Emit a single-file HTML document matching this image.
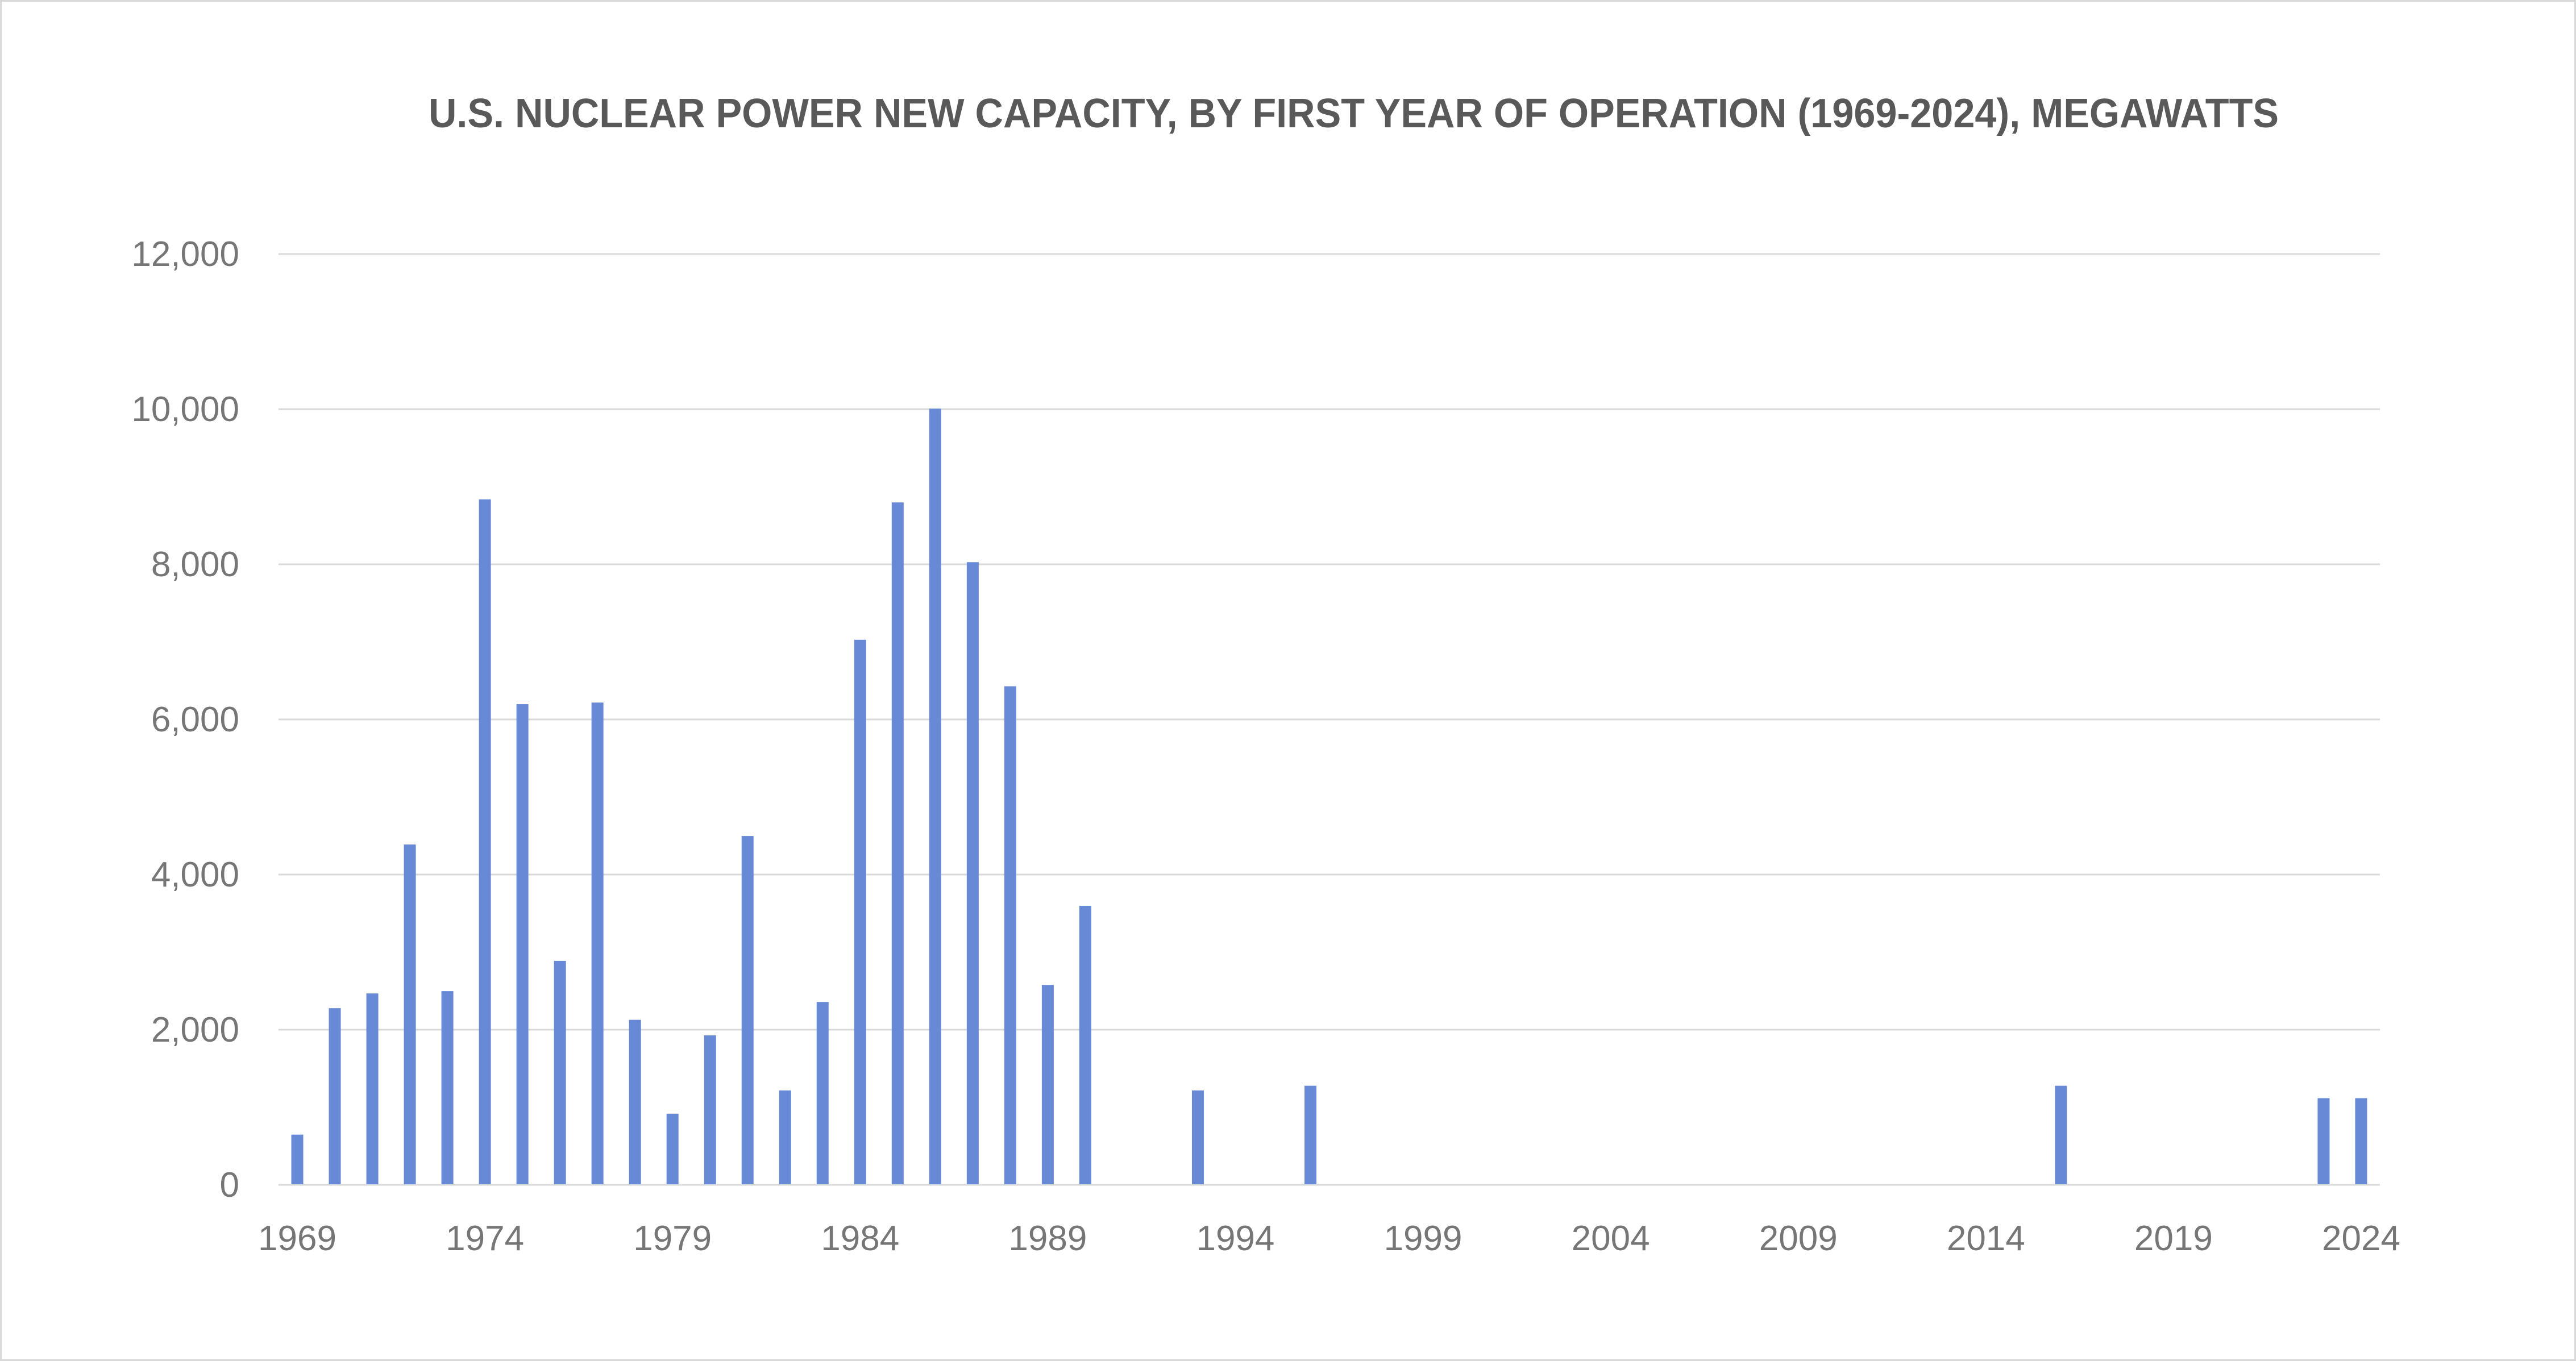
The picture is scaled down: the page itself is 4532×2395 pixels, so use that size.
<!DOCTYPE html>
<html><head><meta charset="utf-8"><style>html,body{margin:0;padding:0;background:#fff}svg{display:block}</style></head>
<body>
<svg xmlns="http://www.w3.org/2000/svg" width="4532" height="2395" viewBox="0 0 4532 2395">
<rect x="1.5" y="1.5" width="4529" height="2392" fill="#fff" stroke="#d9d9d9" stroke-width="3"/>
<text x="754" y="224" font-family="Liberation Sans, sans-serif" font-weight="bold" font-size="72" fill="#595959" textLength="3255" lengthAdjust="spacingAndGlyphs">U.S. NUCLEAR POWER NEW CAPACITY, BY FIRST YEAR OF OPERATION (1969-2024), MEGAWATTS</text>
<g stroke="#d9d9d9" stroke-width="3">
<line x1="490" x2="4187" y1="447" y2="447"/>
<line x1="490" x2="4187" y1="720" y2="720"/>
<line x1="490" x2="4187" y1="993" y2="993"/>
<line x1="490" x2="4187" y1="1266" y2="1266"/>
<line x1="490" x2="4187" y1="1539" y2="1539"/>
<line x1="490" x2="4187" y1="1812" y2="1812"/>
<line x1="490" x2="4187" y1="2085" y2="2085"/>
</g>
<g font-family="Liberation Sans, sans-serif" font-size="62" fill="#767676" text-anchor="end">
<text x="421" y="468">12,000</text>
<text x="421" y="741">10,000</text>
<text x="421" y="1014">8,000</text>
<text x="421" y="1287">6,000</text>
<text x="421" y="1560">4,000</text>
<text x="421" y="1833">2,000</text>
<text x="421" y="2106">0</text>
</g>
<g id="bars" fill="#6789d6"></g>
<g id="xl" font-family="Liberation Sans, sans-serif" font-size="62" fill="#767676" text-anchor="middle"></g>
<script>
var v={1969:640,1970:2270,1971:2460,1972:4380,1973:2490,1974:8830,1975:6190,1976:2880,1977:6210,1978:2120,1979:910,1980:1920,1981:4490,1982:1210,1983:2350,1984:7020,1985:8790,1986:10000,1987:8020,1988:6420,1989:2570,1990:3590,1993:1210,1996:1270,2016:1270,2023:1110,2024:1110};
var ns="http://www.w3.org/2000/svg",b=document.getElementById("bars"),xl=document.getElementById("xl");
var w=(4187-490)/56;
for(var y=1969;y<=2024;y++){var i=y-1969,c=490+w*(i+0.5);
if(v[y]){var h=v[y]*273/2000,r=document.createElementNS(ns,"rect");r.setAttribute("x",c-10.5);r.setAttribute("width",21);r.setAttribute("y",2084-h);r.setAttribute("height",h);b.appendChild(r);}
if(i%5==0){var t=document.createElementNS(ns,"text");t.setAttribute("x",c);t.setAttribute("y",2200);t.textContent=y;xl.appendChild(t);}}
</script>
</svg>
</body></html>
